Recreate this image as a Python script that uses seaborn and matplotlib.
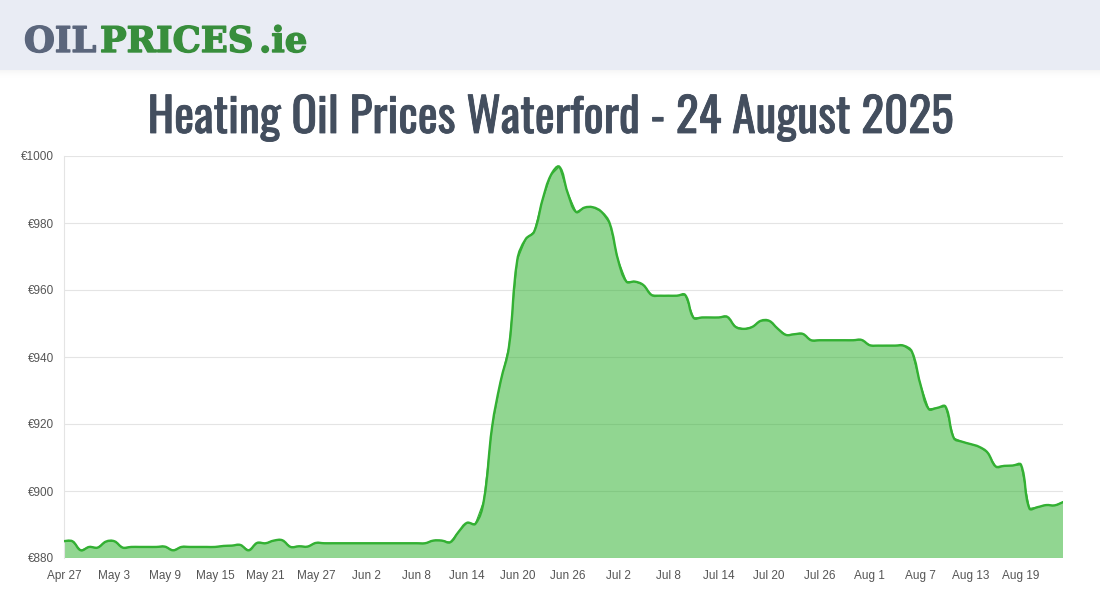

import matplotlib
matplotlib.use("Agg")
import matplotlib.pyplot as plt
import matplotlib.patheffects as pe
from matplotlib.patches import PathPatch, Rectangle
from matplotlib.path import Path
import numpy as np
import pandas as pd
import seaborn as sns

prices = [
    885.0, 885.0, 882.3, 883.3, 883.1, 884.9, 885.0, 883.1, 883.3, 883.3,
    883.3, 883.3, 883.4, 882.3, 883.3, 883.3, 883.3, 883.3, 883.3, 883.6,
    883.7, 883.9, 882.3, 884.5, 884.4, 885.2, 885.3, 883.3, 883.5, 883.4,
    884.5, 884.4, 884.4, 884.4, 884.4, 884.4, 884.4, 884.4, 884.4, 884.4,
    884.4, 884.4, 884.4, 884.4, 885.2, 885.2, 884.7, 887.8, 890.5, 890.2,
    897.0, 919.2, 932.6, 943.0, 969.0, 975.2, 977.4, 986.9, 994.3, 996.8,
    989.0, 983.3, 984.6, 984.7, 983.4, 979.9, 969.0, 962.5, 962.5, 961.5,
    958.5, 958.3, 958.3, 958.3, 958.5, 951.7, 951.8, 951.8, 951.8, 952.0,
    949.0, 948.4, 949.0, 950.8, 950.8, 948.5, 946.6, 946.8, 946.9, 945.0,
    945.0, 945.0, 945.0, 945.0, 945.0, 945.1, 943.5, 943.4, 943.4, 943.4,
    943.4, 941.6, 932.0, 924.5, 924.8, 925.2, 915.8, 914.7, 914.0, 913.2,
    911.5, 907.3, 907.5, 907.6, 907.8, 894.8, 895.2, 895.8, 895.7, 896.7,
]
tick_labels = [
    "Apr 27", "May 3", "May 9", "May 15", "May 21", "May 27", "Jun 2",
    "Jun 8", "Jun 14", "Jun 20", "Jun 26", "Jul 2", "Jul 8", "Jul 14",
    "Jul 20", "Jul 26", "Aug 1", "Aug 7", "Aug 13", "Aug 19",
]
y_ticks = [880, 900, 920, 940, 960, 980, 1000]
title = "Heating Oil Prices Waterford - 24 August 2025"

LINE_COLOR = "#33b033"
FILL_COLOR = "#25af25"
GRID_COLOR = "#e4e4e4"
TICK_COLOR = "#555555"
W, H = 1100, 600


def smooth_path(x, y, ax, tension=0.4):
    # same spline the web chart uses, worked out in pixels so steep parts stay tight
    pts = ax.transData.transform(np.column_stack([x, y]))
    verts = [pts[0]]
    codes = [Path.MOVETO]
    prev_ctrl = pts[0]
    for i in range(1, len(pts)):
        if i < len(pts) - 1:
            d01 = np.linalg.norm(pts[i] - pts[i - 1])
            d12 = np.linalg.norm(pts[i + 1] - pts[i])
            total = d01 + d12
            step = pts[i + 1] - pts[i - 1]
            c_in = pts[i] - tension * d01 / total * step
            c_out = pts[i] + tension * d12 / total * step
        else:
            c_in = c_out = pts[i]
        verts += [prev_ctrl, c_in, pts[i]]
        codes += [Path.CURVE4] * 3
        prev_ctrl = c_out
    verts = ax.transData.inverted().transform(np.array(verts))
    return verts, codes


def fit_width(txt, target_px):
    # the web font may not be there, so scale whatever was found to the wanted width
    width = txt.get_window_extent(fig.canvas.get_renderer()).width
    txt.set_fontsize(txt.get_fontsize() * target_px / width)


sns.set_theme(style="white")
plt.rcParams["font.family"] = ["Liberation Sans", "DejaVu Sans"]

fig = plt.figure(figsize=(W / 100, H / 100), dpi=100)
ax = fig.add_axes([64 / W, (H - 558) / H, 999 / W, 402 / H])

days = np.arange(len(prices))
df = pd.DataFrame({"day": days, "price": prices})
sns.lineplot(data=df, x="day", y="price", color=LINE_COLOR, lw=0.8, ax=ax, zorder=3)

ax.set_xlim(days[0], days[-1])
ax.set_ylim(y_ticks[0], y_ticks[-1])
ax.set_xlabel("")
ax.set_ylabel("")
ax.set_yticks(y_ticks)
ax.set_yticklabels([f"€{v}" for v in y_ticks])
ax.set_xticks(days[::6])
ax.set_xticklabels(tick_labels)
ax.tick_params(axis="y", length=7.2, width=0.72, color=GRID_COLOR, pad=0,
               labelsize=8.5, labelcolor=TICK_COLOR)
ax.tick_params(axis="x", length=0, pad=8.7, labelsize=8.5, labelcolor=TICK_COLOR)
ax.grid(axis="y", color=GRID_COLOR, lw=0.8)
ax.set_axisbelow(True)
for side in ("top", "right", "bottom"):
    ax.spines[side].set_visible(False)
ax.spines["left"].set_color(GRID_COLOR)
ax.spines["left"].set_linewidth(0.8)

verts, codes = smooth_path(days, prices, ax)
fill_verts = np.vstack([verts, [days[-1], y_ticks[0]], [days[0], y_ticks[0]], verts[0]])
fill_codes = codes + [Path.LINETO, Path.LINETO, Path.CLOSEPOLY]
ax.add_patch(PathPatch(Path(fill_verts, fill_codes), fc=FILL_COLOR, ec="none", alpha=0.5, zorder=2))
ax.add_patch(PathPatch(Path(verts, codes), fc="none", ec=LINE_COLOR, lw=1.7, zorder=4,
                       capstyle="round"))

# page header band with its soft shadow
for i in range(10):
    fig.add_artist(Rectangle((0, (H - 70 - i - 1) / H), 1, 1 / H, transform=fig.transFigure,
                             fc="#000000", ec="none", alpha=0.035 * (1 - i / 10) ** 2))
fig.add_artist(Rectangle((0, (H - 70) / H), 1, 70 / H, transform=fig.transFigure,
                         fc="#e9ecf4", ec="none"))

# logo, three pieces of heavy slab text
for piece, px, col in (("OIL", 24, "#5b667c"), ("PRICES", 100, "#388e3c"), (".ie", 259, "#388e3c")):
    fig.text(px / W, (H - 52) / H, piece, family="DejaVu Serif", weight="bold",
             fontsize=25.5, color=col, ha="left", va="baseline",
             path_effects=[pe.withStroke(linewidth=1.0, foreground=col)])

head_stroke = [pe.withStroke(linewidth=0.6, foreground="#434e5e")]
head = fig.text(550.5 / W, (H - 133) / H, title, family=["Oswald", "Roboto"], weight=500,
                fontsize=34, color="#434e5e", ha="center", va="baseline",
                path_effects=head_stroke)
fit_width(head, 806)

fig.savefig("out.png", dpi=100)
